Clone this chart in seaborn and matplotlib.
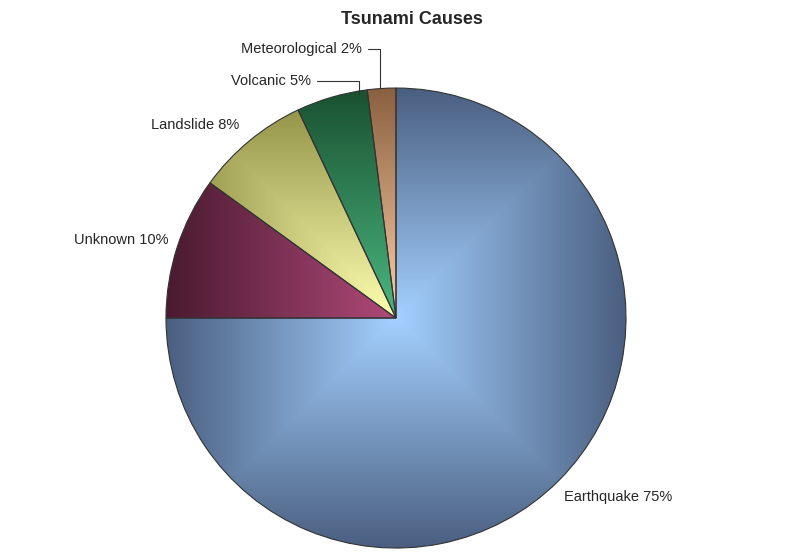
import numpy as np
import matplotlib
matplotlib.use("Agg")
import matplotlib.pyplot as plt
import seaborn as sns
from matplotlib.colors import to_rgb

categories = ["Earthquake", "Unknown", "Landslide", "Volcanic", "Meteorological"]
values = [75, 10, 8, 5, 2]
light = ["#a4d0ff", "#b04a78", "#ffffb0", "#4ab880", "#ffd0a8"]
dark = ["#4a5f80", "#4a1a30", "#8a8a40", "#1a5030", "#8a6040"]

sns.set_theme(style="white")
plt.rcParams['font.family'] = ['Liberation Sans', 'DejaVu Sans']

fig = plt.figure(figsize=(8, 5.57), dpi=100)
ax = fig.add_axes([0.2075, 0.016, 0.575, 0.826])
wedges, _ = ax.pie(values, startangle=90, counterclock=False,
                   wedgeprops=dict(edgecolor="#333333", linewidth=0.8))
ax.set_xlim(-1, 1); ax.set_ylim(-1, 1); ax.set_aspect("equal")

n = 400
xs = np.linspace(-1, 1, n)
X, Y = np.meshgrid(xs, xs[::-1])
D = np.clip(np.maximum(np.abs(X), np.abs(Y)), 0, 1)
for w, lc, dc in zip(wedges, light, dark):
    l = np.array(to_rgb(lc)); d = np.array(to_rgb(dc))
    img = l[None, None, :] * (1 - D[..., None]) + d[None, None, :] * D[..., None]
    w.set_facecolor("none")
    im = ax.imshow(img, extent=(-1, 1, -1, 1), zorder=0.5)
    im.set_clip_path(w)

fs = 10.5
ax.text(0.73, -0.78, "Earthquake 75%", ha="left", va="center", fontsize=fs)
ax.text(-0.99, 0.34, "Unknown 10%", ha="right", va="center", fontsize=fs)
ax.text(-0.68, 0.84, "Landslide 8%", ha="right", va="center", fontsize=fs)
ax.annotate("Volcanic 5%", xy=(-0.16, 0.96), xytext=(-0.37, 1.03),
            ha="right", va="center", fontsize=fs, annotation_clip=False,
            arrowprops=dict(arrowstyle="-", color="#333333", lw=0.8,
                            connectionstyle="angle,angleA=0,angleB=90,rad=0"))
ax.annotate("Meteorological 2%", xy=(-0.07, 0.99), xytext=(-0.15, 1.17),
            ha="right", va="center", fontsize=fs, annotation_clip=False,
            arrowprops=dict(arrowstyle="-", color="#333333", lw=0.8,
                            connectionstyle="angle,angleA=0,angleB=90,rad=0"))
fig.text(0.515, 0.965, "Tsunami Causes", ha="center", va="center",
         fontsize=13, fontweight="bold")
fig.savefig("out.png", dpi=100)
